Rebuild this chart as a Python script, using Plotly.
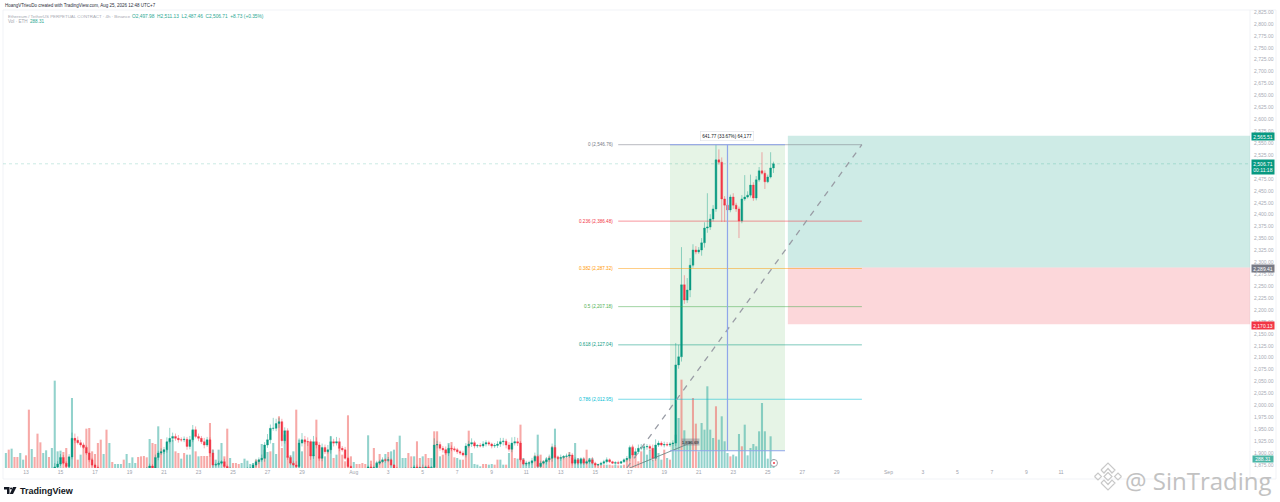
import pandas as pd
import plotly.graph_objects as go

WIDTH, HEIGHT = 1280, 502
LEFT, RIGHT, TOP, BOTTOM = 3, 1250, 10, 468

# 4h closes (the parts under the time axis are hidden in the picture)
closes = [
    1842,1838,1844,1841,1836,1833,1837,1845,1840,1848,1846,1851,1849,1853,1850,1856,1862,
    1871,1877,1891,1879,1872,1892,1931,1927,1922,1917,1912,1900,1886,1875,1870,
    1862,1858,1863,1856,1860,1857,1852,1855,1853,1850,1854,1857,1851,1848,1852,1856,1860,
    1868,1873,1869,1891,1900,1903,1907,1924,1931,1935,1931,1928,1928,1929,1914,1928,1949,
    1935,1931,1924,1917,1928,1900,1875,1876,1879,1882,1872,1868,
    1864,1860,1856,1858,1861,1863,1866,1868,1875,1882,1886,1889,1917,1928,1952,1952,1962,
    1966,1926,1947,1891,1879,1875,1872,1921,1928,1924,1924,1894,1924,1917,1889,1912,1903,1907,
    1924,1921,1924,1910,1907,1889,1872,1864,1860,1857,1855,1859,1862,1871,1866,1870,1879,
    1882,1886,1885,1886,1875,1868,1864,1861,1866,1863,1860,1868,1871,1866,1870,1864,1871,
    1866,1870,1917,1918,1910,1907,1900,1910,1909,1907,1903,1900,1896,1915,1919,1922,1915,
    1916,1915,1919,1922,1919,1915,1916,1919,1924,1925,1917,1908,1921,1924,1921,1886,1877,
    1879,1880,1884,1893,1872,1879,1882,1886,1889,1912,1891,1889,1891,1893,1894,1896,1879,
    1886,1879,1887,1879,1882,1886,1879,1875,1876,1879,1882,1886,1882,1879,1880,1879,1882,
    1886,1889,1912,1896,1903,1910,1912,1913,1914,1910,1889,1917,
    1921,1917,1918,1917,1919,1921,2085,2102,2253,2221,2242,2294,2326,2322,2326,2341,2372,
    2374,2391,2412,2515,2510,2433,2420,2410,2437,2420,2412,2387,2433,2437,2441,2462,2435,
    2473,2492,2487,2469,2479,2497.98,2506.71,
]
wick_up = [
    4,3,5,2,6,3,4,2,5,3, 3,6,2,5,4,3,5,8,6,7, 5,4,6,12,10,8,6,5,4,3,
    4,3,4,3,5,2,4,3,5,2, 3,4,5,3,4,6,3,5,4,3, 5,4,6,5,7,6,9,22,8,6,
    7,5,6,5,8,10,7,6,5,8, 6,5,8,4,5,3,6,4,3,2, 3,4,2,3,5,3,4,6,5,8,
    6,12,8,22,10,8,6,7,5,4, 5,8,10,14,8,9,5,12,9,6, 8,6,10,12,6,10,8,5,6,3,
    2,4,3,3,4,5,3,6,4,5, 4,5,3,6,3,2,3,2,3,4, 2,3,4,5,2,6,3,4,3,14,
    8,6,5,7,8,6,5,4,3,5, 6,7,9,4,3,5,6,5,4,3, 5,6,8,7,5,6,12,10,8,4,
    3,5,4,6,8,4,5,3,6,8, 8,5,4,6,3,5,6,4,5,3, 4,5,3,4,6,3,2,3,4,5,
    3,2,3,4,2,3,5,4,6,7, 8,7,6,5,4,8,12,5,4,6, 5,4,6,46,25,79,20,25,15,12,
    8,6,10,12,71,10,8,31.76,22,10, 6,5,5,8,5,5,8,46,8,22, 6,8,8,39,6,5,33,4.42,
]
wick_dn = [
    3,2,4,3,2,5,3,4,2,3, 4,3,5,2,3,4,2,3,6,4, 3,5,4,5,6,4,5,3,4,5,
    3,4,2,5,3,4,2,3,5,2, 4,3,2,5,3,4,3,2,4,3, 4,5,3,6,4,5,6,4,7,5,
    6,4,5,7,6,5,4,6,5,7, 4,8,5,3,4,3,4,2,3,2, 2,3,3,2,4,3,3,4,5,4,
    7,6,8,5,6,9,12,6,5,4, 3,4,6,7,5,9,8,6,7,5, 6,5,4,8,7,5,6,4,3,2,
    3,2,3,4,2,3,4,3,5,4, 4,3,5,4,3,2,3,2,4,3, 2,3,4,3,4,3,2,3,2,6,
    7,5,6,4,6,5,4,5,4,3, 5,4,6,5,4,3,4,5,4,5, 4,5,6,8,7,5,6,5,6,4,
    3,4,5,4,3,5,4,3,6,5, 7,4,3,5,4,3,4,5,3,4, 3,4,3,4,3,4,2,3,3,4,
    3,2,3,3,2,3,4,6,5,6, 5,4,5,6,5,6,5,4,3,5, 3,4,3,6,8,10,8,6,15,5,
    5,4,12,10,10,6,5,6,5,48, 35,5,5,8,6,36,5,4,3,5, 6,5,4,3,15,3,3,10.52,
]
# volume in thousands ETH
volumes = [
    480,587,619,352,352,480,267,405,1867,608, 352,1099,821,480,566,352,640,2795,533,555,
    512,640,373,2240,960,267,427,747,1259,1280, 533,448,800,907,448,1227,800,192,128,128,
    128,267,448,160,341,160,352,373,384,341, 928,800,768,1334,928,587,587,907,907,533,
    480,299,480,427,427,1174,533,373,384,384, 384,1440,587,267,587,800,373,1259,320,160,
    160,128,160,299,235,128,160,267,267,768, 587,512,533,800,448,1654,640,1067,373,405,
    533,1867,907,533,854,854,854,427,1547,373, 640,373,533,
    1014,320,427,640,427,213,1686,373,192,128, 128,160,128,1046,235,640,192,448,235,448,
    512,533,587,832,1035,320,320,480,373,373, 854,320,373,448,320,320,1174,1174,373,427,
    587,800,832,341,320,267,267,427,1195,480, 128,107,53,128,128,107,128,107,267,267,
    107,107,480,768,320,299,1387,320,160,160, 213,405,1067,427,235,320,373,694,1259,373,
    320,373,341,512,320,800,320,320,320,587, 320,320,128,107,85,107,107,107,85,107,
    85,85,107,267,320,694,427,213,533,640, 427,587,267,640,
    480,267,587,320,267,747,1067,1600,2827,1206, 747,854,2240,1419,533,1440,1227,2614,1227,960,
    1974,907,1654,854,480,373,427,373,1088,694, 1387,405,640,768,694,1174,2080,1174,299,1014,288.31,
]
# u / d colour of each volume bar, ten per group
vol_side = (
    "ududduudd u" "dddu udu uuu" "dduudd uddd" "dddd ududu u"
    "uduuuu dddd" "uddudu uuud" "dudu uudud d" "dduuuu ddud"
    "dduuuu uddu" "duduud dudu u" "duuddd uddd" "udu"
    "dudddddu dd" "dduddu ddu d" "uuduuu ddudd" "uddu ddudd u"
    "dduuddd uuu" "udduud duud" "uddudu uu ud" "uddu ddudud"
    "ddduuu uduu" "ddddudd udu" "dddd ddduuu" "uduud uduu ud"
    "uuuddu uuuuu" "duuuud uuu du"
).replace(" ", "")
price_ticks = [1875 + 25 * i for i in range(39) if i != 25]

day_labels = ["13","15","17","19","21","23","25","27","29","Aug","3","5","7","9","11","13","15",
              "17","19","21","23","25","27","29","Sep","3","5","7","9","11"]
day_dates = ["2026-07-13","2026-07-15","2026-07-17","2026-07-19","2026-07-21","2026-07-23","2026-07-25",
             "2026-07-27","2026-07-29","2026-08-01","2026-08-03","2026-08-05","2026-08-07","2026-08-09",
             "2026-08-11","2026-08-13","2026-08-15","2026-08-17","2026-08-19","2026-08-21","2026-08-23",
             "2026-08-25","2026-08-27","2026-08-29","2026-09-01","2026-09-03","2026-09-05","2026-09-07",
             "2026-09-09","2026-09-11"]

fib_levels = ["0", "0.236", "0.382", "0.5", "0.618", "0.786"]
fib_prices = [2546.76, 2386.48, 2287.32, 2207.18, 2127.04, 2012.95]
fib_colors = ["#787b86", "#f23645", "#ff9800", "#4caf50", "#089981", "#00bcd4"]

UP, DOWN = "#089981", "#f23645"
BLUE = "#8fa6ea"


def px(x):
    return (x - LEFT) / (RIGHT - LEFT)


def py(y):
    return (BOTTOM - y) / (BOTTOM - TOP)


vol_side = (vol_side + "u" * len(closes))[:len(closes)]
dates = pd.date_range("2026-07-11 20:00", periods=len(closes), freq="4h")
opens = [1845] + closes[:-1]
highs = [max(o, c) + w for o, c, w in zip(opens, closes, wick_up)]
lows = [min(o, c) - w for o, c, w in zip(opens, closes, wick_dn)]
vol_colors = ["rgba(38,166,154,0.5)" if s == "u" else "rgba(239,83,80,0.5)" for s in vol_side]

fig = go.Figure()
fig.add_trace(go.Bar(x=dates, y=volumes, marker_color=vol_colors, marker_line_width=0, yaxis="y"))
fig.add_trace(go.Candlestick(
    x=dates, open=opens, high=highs, low=lows, close=closes, yaxis="y2",
    increasing=dict(line=dict(color="rgba(8,153,129,0.6)", width=0.7), fillcolor=UP),
    decreasing=dict(line=dict(color="rgba(242,54,69,0.6)", width=0.7), fillcolor=DOWN),
))

shapes = []
# long position tool
shapes.append(dict(type="rect", xref="x", yref="y2", x0="2026-08-26 04:00", x1="2026-09-21 23:00",
                   y0=2289.41, y1=2565.51, fillcolor="rgba(8,153,129,0.2)", line_width=0, layer="below"))
shapes.append(dict(type="rect", xref="x", yref="y2", x0="2026-08-26 04:00", x1="2026-09-21 23:00",
                   y0=2170.13, y1=2289.41, fillcolor="rgba(242,54,69,0.2)", line_width=0, layer="below"))
# measure box
shapes.append(dict(type="rect", xref="x", yref="y2", x0="2026-08-19 08:00", x1="2026-08-26 00:00",
                   y0=1904.99, y1=2546.76, fillcolor="rgba(76,175,80,0.14)", line_width=0, layer="below"))
# last price
shapes.append(dict(type="line", xref="paper", yref="y2", x0=0, x1=1, y0=2506.71, y1=2506.71,
                   line=dict(color="rgba(8,153,129,0.35)", width=0.6, dash="dot")))
# fib retracement
for p, c in zip(fib_prices, fib_colors):
    shapes.append(dict(type="line", xref="x", yref="y2", x0="2026-08-16 08:00", x1="2026-08-30 11:00",
                       y0=p, y1=p, line=dict(color=c, width=0.8), opacity=0.65))
shapes.append(dict(type="line", xref="x", yref="y2", x0="2026-08-16 20:00", x1="2026-08-30 11:00",
                   y0=1868.8, y1=2546.76, line=dict(color="#999ca5", width=1.3, dash="6px,6px")))
shapes.append(dict(type="line", xref="x", yref="y2", x0="2026-08-17 00:00", x1="2026-08-20 12:00",
                   y0=1868.8, y1=1921, line=dict(color="#5f7f7c", width=0.8)))
for yy in (1904.99, 2546.76):
    shapes.append(dict(type="line", xref="x", yref="y2", x0="2026-08-19 08:00", x1="2026-08-26 00:00",
                       y0=yy, y1=yy, line=dict(color=BLUE, width=1)))
shapes.append(dict(type="line", xref="x", yref="y2", x0="2026-08-22 16:00", x1="2026-08-22 16:00",
                   y0=1904.99, y1=2546.76, line=dict(color=BLUE, width=1.2)))
# frame
for x0, y0, x1, y1 in [(LEFT, TOP, 1276, TOP), (LEFT, 479, 1276, 479), (LEFT, TOP, LEFT, 479),
                       (RIGHT, TOP, RIGHT, 479), (1276, TOP, 1276, 479)]:
    shapes.append(dict(type="line", xref="paper", yref="paper", x0=px(x0), x1=px(x1), y0=py(y0), y1=py(y1),
                       line=dict(color="#eef0f5", width=0.8), layer="below"))
# countdown icon
shapes.append(dict(type="circle", xref="paper", yref="paper", x0=px(770.5), x1=px(777.5), y0=py(466.5), y1=py(459.5),
                   fillcolor="white", line=dict(color="#8a8d98", width=0.8)))
shapes.append(dict(type="circle", xref="paper", yref="paper", x0=px(773), x1=px(775), y0=py(464), y1=py(462),
                   fillcolor=DOWN, line_width=0))


def poly(points, **kw):
    path = "M " + " L ".join(f"{px(x):.5f},{py(y):.5f}" for x, y in points)
    return dict(type="path", xref="paper", yref="paper", path=path, **kw)


# tradingview logo
shapes.append(poly([(4, 487), (9.5, 487), (9.5, 494), (7, 494), (7, 489.5), (4, 489.5)], fillcolor="#131722", line_width=0))
shapes.append(dict(type="circle", xref="paper", yref="paper", x0=px(10), x1=px(12.2), y0=py(489.6), y1=py(487.4),
                   fillcolor="#131722", line_width=0))
shapes.append(poly([(13, 487), (16.5, 487), (13, 494), (9.8, 494)], fillcolor="#131722", line_width=0))
# watermark diamond
wm = dict(line=dict(color="#c9c9c9", width=1.2))
cx, cy = 1108, 476.5
shapes.append(poly([(cx, cy - 4), (cx + 4, cy), (cx, cy + 4), (cx - 4, cy), (cx, cy - 4)], **wm))
shapes.append(poly([(cx - 7, cy - 6.5), (cx, cy - 13.5), (cx + 7, cy - 6.5), (cx + 4, cy - 3.5), (cx, cy - 8), (cx - 4, cy - 3.5), (cx - 7, cy - 6.5)], **wm))
shapes.append(poly([(cx - 7, cy + 6.5), (cx, cy + 13.5), (cx + 7, cy + 6.5), (cx + 4, cy + 3.5), (cx, cy + 8), (cx - 4, cy + 3.5), (cx - 7, cy + 6.5)], **wm))
shapes.append(poly([(cx - 13.5, cy), (cx - 10, cy - 3.5), (cx - 6.5, cy), (cx - 10, cy + 3.5), (cx - 13.5, cy)], **wm))
shapes.append(poly([(cx + 13.5, cy), (cx + 10, cy - 3.5), (cx + 6.5, cy), (cx + 10, cy + 3.5), (cx + 13.5, cy)], **wm))

FONT = "Liberation Sans"
annotations = []


def text(x, y, s, size=4.6, color="#131722", anchor="left", **kw):
    annotations.append(dict(xref="paper", yref="paper", x=px(x), y=py(y), text=s, showarrow=False,
                            xanchor=anchor, yanchor="middle", font=dict(family=FONT, size=size, color=color),
                            borderpad=0, **kw))


def pill(y, s, color, w=22, h=7):
    annotations.append(dict(xref="paper", yref="paper", x=px(1263), y=py(y), text=s, showarrow=False,
                            xanchor="center", yanchor="middle", width=w, height=h, align="center", valign="middle",
                            bgcolor=color, borderpad=0, font=dict(family=FONT, size=5, color="white")))


text(4, 5.5, "HoangVTrieuDo created with TradingView.com, Aug 25, 2026 12:48 UTC+7", color="#2a2e39", size=4.5)
text(7, 16, "Ethereum / TetherUS PERPETUAL CONTRACT · 4h · Binance", color="#a6a9b2", size=4.4)
text(131, 16, "O2,497.98  H2,511.13  L2,487.46  C2,506.71  +8.73 (+0.35%)", color="#2aa892", size=4.8)
text(7, 22, "Vol · ETH", color="#a6a9b2")
text(29, 22, "288.31", color="#2aa892")
for lvl, p, c in zip(fib_levels, fib_prices, fib_colors):
    y_px = TOP + (2829.2 - p) / (2829.2 - 1868.8) * (BOTTOM - TOP)
    text(614, y_px, f"{lvl} ({p:,.2f})", color=c, anchor="right")
annotations.append(dict(xref="paper", yref="paper", x=px(726.5), y=py(135.5), text="641.77 (33.67%) 64,177",
                        showarrow=False, xanchor="center", yanchor="middle", width=53, height=9, bgcolor="white",
                        bordercolor="#dfe1e6", borderwidth=0.6, borderpad=0, font=dict(family=FONT, size=4.6, color="#131722")))
annotations.append(dict(xref="paper", yref="paper", x=px(690), y=py(441.5), text="1,896.69", showarrow=False,
                        xanchor="center", yanchor="middle", width=17, height=6, bgcolor="rgba(120,123,134,0.45)",
                        borderpad=0, font=dict(family=FONT, size=4.4, color="#131722")))
pill(136, "2,565.51", UP)
pill(167, "2,506.71<br>00:11:18", UP, h=14)
pill(268, "2,289.41", "#787b86")
pill(325, "2,170.13", DOWN)
pill(458.5, "288.31", "#4db6a6", w=20, h=6)
text(19, 491, "<b>TradingView</b>", size=9, color="#131722")
annotations.append(dict(xref="paper", yref="paper", x=px(1274), y=py(480), text="@ SinTrading", showarrow=False,
                        xanchor="right", yanchor="middle", font=dict(family="Open Sans", size=24, color="#c2c2c2")))

fig.update_layout(
    width=WIDTH, height=HEIGHT, showlegend=False, plot_bgcolor="white", paper_bgcolor="white",
    margin=dict(l=LEFT, r=WIDTH - RIGHT, t=TOP, b=HEIGHT - BOTTOM, autoexpand=False),
    bargap=0.28, boxgap=0.12, shapes=shapes, annotations=annotations,
    xaxis=dict(type="date", range=["2026-07-11 16:00", "2026-09-21 23:00"], rangeslider_visible=False,
               tickmode="array", tickvals=day_dates, ticktext=day_labels, ticks="", showgrid=False, zeroline=False,
               tickfont=dict(family=FONT, size=5, color="#a0a3ad"), showline=False),
    yaxis=dict(range=[0, 14656], visible=False, fixedrange=True),
    yaxis2=dict(overlaying="y", side="right", range=[1868.8, 2829.2], tickmode="array", tickvals=price_ticks,
                tickformat=",.2f", ticks="", showgrid=False, zeroline=False, showline=False, ticklabelstandoff=3,
                tickfont=dict(family=FONT, size=5, color="#a8abb5")),
)

fig.write_html("out.html", config=dict(displayModeBar=False), post_script="document.body.style.margin='0';")
